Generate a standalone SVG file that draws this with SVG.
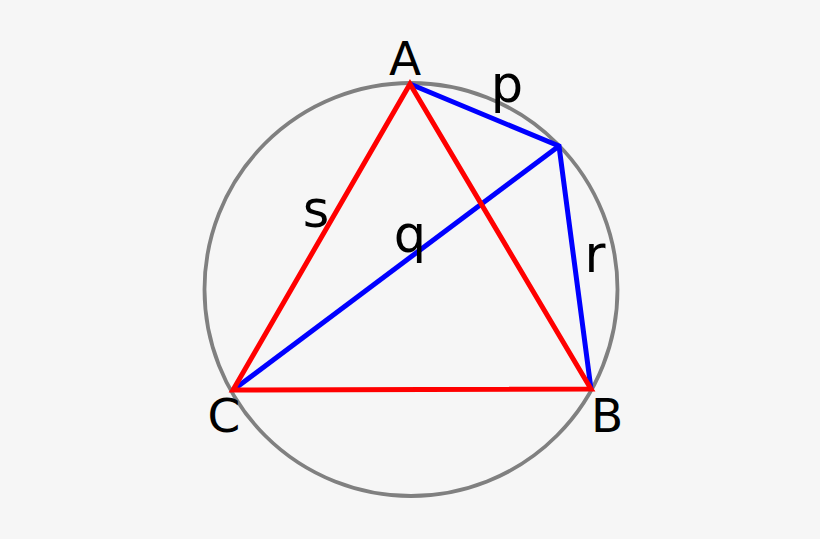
<svg xmlns="http://www.w3.org/2000/svg" width="820" height="539" viewBox="0 0 820 539">
<style>
.lbl{font-family:"DejaVu Sans",sans-serif;fill:#000;text-anchor:middle}
.cap{font-size:47px}
.low{font-size:51px}
.blue{stroke:#0000ff;stroke-width:5;fill:none;stroke-linejoin:miter}
.red{stroke:#ff0000;stroke-width:5;fill:none;stroke-linejoin:miter}
</style>
<rect width="820" height="539" fill="#f6f6f6"/>
<g id="circle"><circle cx="411" cy="289.5" r="206.5" fill="none" stroke="#808080" stroke-width="3.8"/></g>
<g id="connectors">
<polyline class="blue" points="410,84 559,146 591,389"/>
<line class="blue" x1="559" y1="146" x2="233" y2="390"/>
<polygon class="red" points="410,84 591,389 233,390"/>
</g>
<g id="A"><text class="lbl cap" x="405" y="75">A</text></g>
<g id="B"><text class="lbl cap" x="607" y="432">B</text></g>
<g id="C"><text class="lbl cap" x="224" y="432">C</text></g>
<g id="p"><text class="lbl low" x="507" y="102">p</text></g>
<g id="q"><text class="lbl low" x="410" y="252">q</text></g>
<g id="r"><text class="lbl low" x="595" y="272">r</text></g>
<g id="s"><text class="lbl low" x="316" y="227">s</text></g>
</svg>
